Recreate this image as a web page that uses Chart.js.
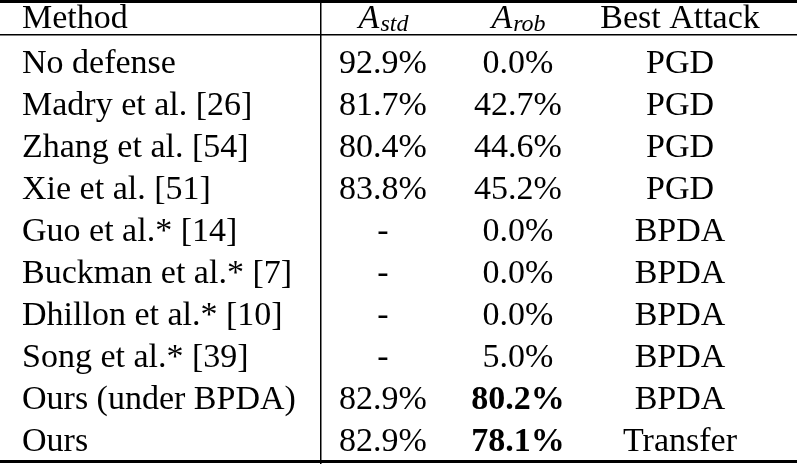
<!DOCTYPE html>
<html><head><meta charset="utf-8">
<script src="https://cdn.jsdelivr.net/npm/chart.js@4"></script>
<style>html,body{margin:0;padding:0;background:#fff}#w{width:797px;height:464px}</style>
</head><body><div id="w"><canvas id="c"></canvas></div>
<script>
const methods = ["No defense","Madry et al. [26]","Zhang et al. [54]","Xie et al. [51]","Guo et al.* [14]","Buckman et al.* [7]","Dhillon et al.* [10]","Song et al.* [39]","Ours (under BPDA)","Ours"];
const aStd = ["92.9%","81.7%","80.4%","83.8%","-","-","-","-","82.9%","82.9%"];
const aRob = ["0.0%","42.7%","44.6%","45.2%","0.0%","0.0%","0.0%","5.0%","80.2%","78.1%"];
const bestAttack = ["PGD","PGD","PGD","PGD","BPDA","BPDA","BPDA","BPDA","BPDA","Transfer"];
const boldRob = [false,false,false,false,false,false,false,false,true,true];
const headers = ["Method","A|std","A|rob","Best Attack"];

const F = '"Liberation Serif","DejaVu Serif",serif';
const FS = 34;
const colX = [22, 383, 518, 680];
const tablePlugin = {
  id: 'table',
  afterDraw(chart) {
    const ctx = chart.ctx, ys = chart.scales.y;
    ctx.save();
    ctx.fillStyle = '#000';
    ctx.textBaseline = 'middle';
    ctx.fillRect(0, 0, 797, 3);
    ctx.fillRect(0, 34, 797, 1.5);
    ctx.fillRect(0, 460, 797, 3);
    ctx.fillRect(320, 0, 1.5, 464);
    const hy = ys.getPixelForValue(0) - 3;
    headers.forEach((h, j) => {
      if (h.includes('|')) {
        const [a, s] = h.split('|');
        ctx.font = 'italic ' + FS + 'px ' + F;
        const wa = ctx.measureText(a).width;
        ctx.font = 'italic 24px ' + F;
        const ws = ctx.measureText(s).width;
        const x0 = colX[j] - (wa + ws) / 2;
        ctx.textAlign = 'left';
        ctx.font = 'italic ' + FS + 'px ' + F;
        ctx.fillText(a, x0, hy);
        ctx.font = 'italic 24px ' + F;
        ctx.fillText(s, x0 + wa + 1, hy + 6);
      } else {
        ctx.font = FS + 'px ' + F;
        ctx.textAlign = j === 0 ? 'left' : 'center';
        ctx.fillText(h, colX[j], hy);
      }
    });
    methods.forEach((m, i) => {
      const y = ys.getPixelForValue(i + 1);
      ctx.font = FS + 'px ' + F;
      ctx.textAlign = 'left'; ctx.fillText(m, colX[0], y);
      ctx.textAlign = 'center'; ctx.fillText(aStd[i], colX[1], y);
      ctx.font = (boldRob[i] ? 'bold ' : '') + FS + 'px ' + F;
      ctx.fillText(aRob[i], colX[2], y);
      ctx.font = FS + 'px ' + F;
      ctx.fillText(bestAttack[i], colX[3], y);
    });
    ctx.restore();
  }
};
new Chart(document.getElementById('c'), {
  type: 'scatter',
  data: { datasets: [{ data: methods.map((m, i) => ({ x: 0, y: i + 1 })), pointRadius: 0 }] },
  options: {
    responsive: true, maintainAspectRatio: false, animation: false,
    layout: { padding: { top: 22, bottom: 22, left: 0, right: 0 } },
    plugins: { legend: { display: false }, tooltip: { enabled: false } },
    scales: {
      x: { display: false, min: 0, max: 1 },
      y: { display: false, min: 0, max: 10, reverse: true }
    }
  },
  plugins: [tablePlugin]
});
</script></body></html>
